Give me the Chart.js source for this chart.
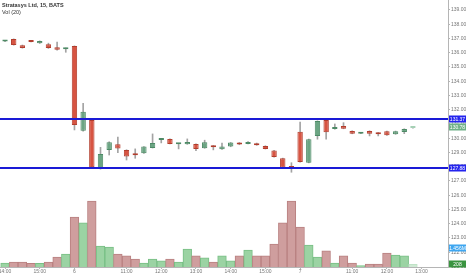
<!DOCTYPE html>
<html>
<head>
<meta charset="utf-8">
<script src="https://cdn.jsdelivr.net/npm/chart.js@4.4.0/dist/chart.umd.min.js"></script>
<style>
  html, body { margin: 0; padding: 0; background: #fff; }
  #wrap { position: relative; width: 466px; height: 275px; }
  #legend { position: absolute; left: 2px; top: 2px; font-family: 'Liberation Sans', Arial, sans-serif; font-size: 5.5px; color: #333; line-height: 7px; pointer-events: none; }
</style>
</head>
<body>
<div id="wrap">
  <canvas id="chart" width="466" height="275"></canvas>
  <div id="legend"><b>Stratasys Ltd, 15, BATS</b><br>Vol (20)</div>
</div>
<script>
// 15 min bars (index = slot on the time axis)
const times = ['14:00','14:15','14:30','14:45','15:00','15:15','15:30','15:45',
  '09:30','09:45','10:00','10:15','10:30','10:45','11:00','11:15','11:30','11:45','12:00','12:15','12:30','12:45',
  '13:00','13:15','13:30','13:45','14:00','14:15','14:30','14:45','15:00','15:15','15:30','15:45',
  '09:30','09:45','10:00','10:15','10:30','10:45','11:00','11:15','11:30','11:45','12:00','12:15','12:30','12:45'];

const opens  = [136.79,136.96,136.52,136.85,136.66,136.60,136.38,136.24,
  136.47,130.53,131.28,127.84,129.18,129.58,129.18,128.94,128.94,129.32,129.88,129.95,129.57,129.58,
  129.60,129.30,129.48,129.23,129.41,129.69,129.60,129.65,129.46,129.13,128.59,128.05,
  130.46,128.28,130.16,131.28,130.64,130.86,130.51,130.32,130.51,130.39,130.49,130.28,130.44,130.72];
const closes = [136.84,136.54,136.33,136.76,136.82,136.33,136.21,136.30,
  130.93,131.86,127.96,128.89,129.72,129.27,128.71,128.80,129.41,129.67,129.95,129.60,129.63,129.74,
  129.25,129.72,129.37,129.41,129.69,129.55,129.64,129.51,129.25,128.68,127.93,127.84,
  128.33,129.93,131.21,130.42,130.69,130.67,130.32,130.39,130.32,130.28,130.21,130.49,130.65,130.78];
const highs  = [136.85,136.97,136.54,136.86,136.83,136.67,136.75,136.33,
  136.48,132.45,131.30,129.36,129.75,130.07,129.19,129.25,129.42,130.30,129.97,129.96,129.64,129.95,
  129.61,129.86,129.49,129.65,129.70,129.70,129.76,129.66,129.47,129.14,128.60,128.28,
  131.14,129.94,131.22,131.29,131.00,131.09,130.52,130.40,130.52,130.40,130.50,130.50,130.66,130.79];
const lows   = [136.78,136.53,136.32,136.75,136.65,136.30,136.18,136.03,
  130.58,130.50,127.90,127.83,128.82,128.99,128.47,128.59,128.93,129.31,129.67,129.59,129.25,129.57,
  129.13,129.29,129.18,129.22,129.40,129.54,129.59,129.50,129.24,128.67,127.92,127.61,
  128.32,128.27,129.93,129.93,130.63,130.66,130.31,130.31,130.16,130.16,130.20,130.27,130.32,130.71];
// volume in thousands
const volumes = [300,380,380,270,270,380,760,990,
  3800,3350,5020,1600,1520,990,840,610,300,610,460,610,380,1370,
  840,690,380,840,460,840,1290,840,840,1750,3350,5020,
  3040,1670,760,1220,300,840,300,115,230,230,1060,910,840,208];
const volAvg = 1456;

const levels = [131.37, 127.88];

const tickSlots  = [0, 4, 8, 14, 18, 22, 26, 30, 34, 40, 44, 48];
const tickLabels = ['14:00','15:00','6','11:00','12:00','13:00','14:00','15:00','7','11:00','12:00','13:00'];

const last = closes.length - 1;
const isUp = (i) => closes[i] >= opens[i];

const bodyFill   = closes.map((c, i) => i === last ? '#b9dcc6' : (isUp(i) ? '#6ba583' : '#d75442'));
const bodyBorder = closes.map((c, i) => i === last ? '#a5d0b5' : (isUp(i) ? '#4d8a66' : '#b23e2e'));
const volFill    = closes.map((c, i) => i === last ? '#cfead4' : (isUp(i) ? '#9bd3a3' : '#cf9e9e'));
const volBorder  = closes.map((c, i) => i === last ? '#bfe2c6' : (isUp(i) ? '#78bf85' : '#b98080'));

const FONT = "'Liberation Sans', Arial, sans-serif";

// lignes horizontales + étiquettes sur l'axe des prix
const overlay = {
    id: 'overlay',
    afterDatasetsDraw(chart) {
        const { ctx, chartArea, scales } = chart;
        ctx.save();
        ctx.strokeStyle = '#1a1ad6';
        ctx.lineWidth = 2;
        levels.forEach(v => {
            const y = Math.round(scales.y.getPixelForValue(v));
            ctx.beginPath();
            ctx.moveTo(chartArea.left, y);
            ctx.lineTo(chartArea.right, y);
            ctx.stroke();
        });
        ctx.restore();
    },
    afterDraw(chart) {
        const { ctx, chartArea, scales } = chart;
        const tag = (y, bg, text) => {
            y = Math.round(y);
            ctx.fillStyle = bg;
            ctx.fillRect(chartArea.right + 1, y - 3.5, 17, 7);
            ctx.fillStyle = '#fff';
            ctx.font = '5px ' + FONT;
            ctx.textAlign = 'center';
            ctx.textBaseline = 'middle';
            ctx.fillText(text, chartArea.right + 9.5, y + 0.5);
        };
        ctx.save();
        tag(scales.y.getPixelForValue(levels[0]), '#2424ee', levels[0].toFixed(2));
        tag(scales.y.getPixelForValue(closes[last]), '#6fb087', closes[last].toFixed(2));
        tag(scales.y.getPixelForValue(levels[1]), '#2424ee', levels[1].toFixed(2));
        tag(scales.yv.getPixelForValue(volAvg), '#3ea6f0', (volAvg / 1000).toFixed(3) + 'M');
        tag(scales.yv.getPixelForValue(volumes[last]), '#3a9440', String(volumes[last]));
        ctx.restore();
    }
};

const ctx = document.getElementById('chart').getContext('2d');
new Chart(ctx, {
    type: 'bar',
    data: {
        datasets: [
            {
                label: 'wick',
                data: times.map((t, i) => ({ x: i, y: [lows[i], highs[i]] })),
                backgroundColor: '#a3a3a3',
                barThickness: 1,
                grouped: false,
                order: 2,
                yAxisID: 'y'
            },
            {
                label: 'body',
                data: times.map((t, i) => ({ x: i, y: [opens[i], closes[i]] })),
                backgroundColor: bodyFill,
                borderColor: bodyBorder,
                borderWidth: 1,
                borderSkipped: false,
                minBarLength: 2,
                barPercentage: 0.62,
                categoryPercentage: 1,
                grouped: false,
                order: 1,
                yAxisID: 'y'
            },
            {
                label: 'volume',
                data: times.map((t, i) => ({ x: i, y: volumes[i] })),
                backgroundColor: volFill,
                borderColor: volBorder,
                borderWidth: 1,
                borderSkipped: 'start',
                barPercentage: 1,
                categoryPercentage: 1,
                grouped: false,
                order: 3,
                yAxisID: 'yv'
            }
        ]
    },
    options: {
        responsive: false,
        animation: false,
        layout: { padding: 0 },
        plugins: { legend: { display: false }, tooltip: { enabled: false } },
        scales: {
            x: {
                type: 'linear',
                position: 'bottom',
                offset: false,
                min: -0.58,
                max: 51.04,
                afterBuildTicks: (s) => { s.ticks = tickSlots.map(v => ({ value: v })); },
                afterFit: (s) => { s.height = 8; s.paddingLeft = 0; s.paddingRight = 0; },
                ticks: {
                    autoSkip: false,
                    maxRotation: 0,
                    padding: 0,
                    color: '#777',
                    font: { family: FONT, size: 5 },
                    callback: (v, i) => tickLabels[i]
                },
                grid: { offset: false, drawOnChartArea: false, drawTicks: true, tickLength: 2, color: '#b5b5b5' },
                border: { display: true, color: '#b5b5b5' }
            },
            y: {
                type: 'linear',
                position: 'right',
                min: 120.96,
                max: 139.70,
                afterBuildTicks: (s) => {
                    const t = [];
                    for (let v = Math.ceil(s.min); v <= Math.floor(s.max); v++) t.push({ value: v });
                    s.ticks = t;
                },
                afterFit: (s) => { s.width = 18; s.paddingTop = 0; s.paddingBottom = 0; },
                ticks: {
                    padding: 1,
                    color: '#777',
                    font: { family: FONT, size: 5 },
                    callback: (v) => v.toFixed(2)
                },
                grid: { drawOnChartArea: false, drawTicks: true, tickLength: 2, color: '#b5b5b5' },
                border: { display: true, color: '#b5b5b5' }
            },
            yv: {
                type: 'linear',
                display: false,
                min: 0,
                max: 20300
            }
        }
    },
    plugins: [overlay]
});
</script>
</body>
</html>
